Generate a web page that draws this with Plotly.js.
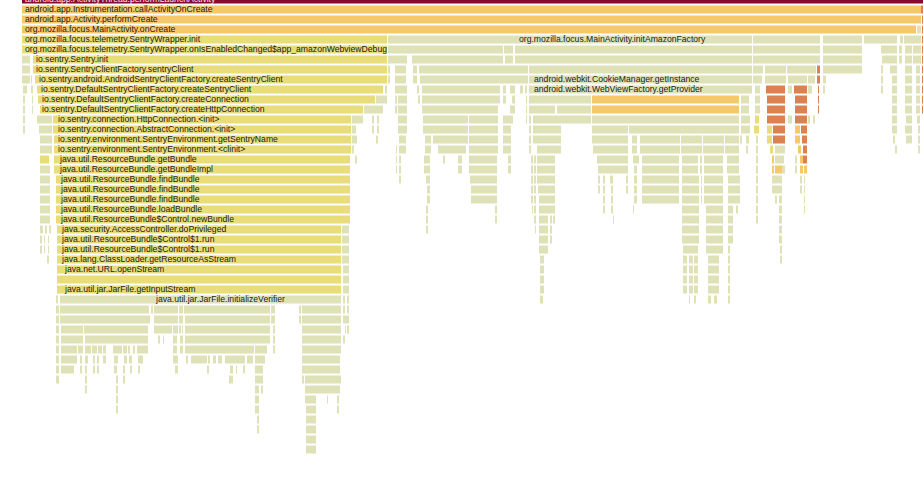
<!DOCTYPE html>
<html><head><meta charset="utf-8">
<script src="https://cdn.plot.ly/plotly-3.0.1.min.js"></script>
<style>html,body{margin:0;padding:0;background:#fff}#chart{width:923px;height:493px}</style>
</head><body><div id="chart"></div>
<script>
// Flame graph frames: [depth, startSample, endSample]
const rootFrames = [[0,22,923]];
const hotFrames = [[1,22,921],[2,22,921],[3,22,916],[10,592,739],[11,592,739],
  [13,795,800],[14,795,800],[15,798,801],[16,772,774],[16,800,803],[17,772,774],[17,775,782],[17,800,803],[17,804,807]];
const warmFrames = [[1,921,923],[2,922,923],[3,922,923],[4,922,923],[5,922,923],[6,922,923],[7,922,923],[8,922,923],[9,922,923],[10,922,923],[11,922,923],
  [7,817,820],[8,817,820],[9,766,785],[9,794,807],[9,818,819],[10,767,785],[10,795,807],[10,818,819],
  [11,767,785],[11,795,807],[11,818,819],[12,767,785],[12,795,807],[13,773,785],[13,801,807],[14,773,785],[14,802,807],[15,803,807],[16,803,807]];
const sentryFrames = [[4,22,387],[5,22,387],[6,33,387],[7,33,387],[8,35,387],[9,37,383],[10,38,375],[11,40,363],
  [12,53,351],[13,53,351],[14,54,351],[15,54,351],[16,40,49],[16,54,350],[17,54,350],[18,56,350],[19,56,350],[20,56,350],
  [21,56,350],[22,56,350],[23,57,341],[24,57,341],[25,57,341],[26,57,341],[27,57,341],[28,57,341],[29,57,341],
  [12,755,759],[13,754,759],[13,767,772],[14,767,772],[15,770,773]];
const coldFrames = [
  [3,917,921],
  [4,388,752],[4,753,820],[4,823,862],[4,864,897],[4,900,903],[4,904,921],
  [5,388,503],[5,504,513],[5,515,752],[5,753,820],[5,823,862],[5,881,897],[5,899,902],[5,905,912],[5,913,921],
  [6,22,30],[6,388,407],[6,412,503],[6,505,513],[6,515,752],[6,753,820],[6,823,862],[6,882,897],[6,899,902],[6,905,912],[6,913,921],
  [7,22,30],[7,388,390],[7,395,406],[7,413,417],[7,419,528],[7,529,752],[7,753,763],[7,765,786],[7,787,816],[7,823,862],[7,881,883],[7,890,897],[7,905,912],[7,916,920],
  [8,22,30],[8,31,32],[8,388,390],[8,395,406],[8,413,417],[8,420,528],[8,529,752],[8,753,762],[8,765,786],[8,788,807],[8,808,815],[8,823,826],[8,881,883],[8,892,897],[8,905,912],[8,916,920],
  [9,23,27],[9,31,33],[9,385,387],[9,395,407],[9,417,419],[9,422,500],[9,503,506],[9,510,515],[9,520,523],[9,525,527],[9,529,752],[9,755,760],[9,788,792],[9,808,812],[9,823,825],[9,881,883],[9,892,897],[9,905,912],[9,916,920],
  [10,23,25],[10,32,33],[10,376,387],[10,395,397],[10,398,407],[10,418,420],[10,422,500],[10,503,506],[10,512,515],[10,526,527],[10,529,591],[10,741,749],[10,755,760],[10,892,897],[10,905,912],[10,916,920],
  [11,23,25],[11,32,33],[11,364,383],[11,395,397],[11,398,407],[11,422,498],[11,510,515],[11,526,527],[11,529,555],[11,557,591],[11,741,749],[11,755,760],[11,892,897],[11,905,912],[11,916,920],
  [12,23,25],[12,37,52],[12,352,363],[12,372,374],[12,377,379],[12,398,407],[12,423,468],[12,469,498],[12,503,513],[12,526,527],[12,529,531],[12,533,591],[12,592,739],[12,741,750],[12,788,792],[12,808,810],[12,813,815],[12,892,897],[12,906,912],[12,917,920],
  [13,23,25],[13,39,52],[13,352,356],[13,372,374],[13,377,379],[13,398,407],[13,423,468],[13,469,498],[13,503,511],[13,529,531],[13,533,561],[13,592,628],[13,629,739],[13,741,750],[13,892,897],[13,905,912],[13,918,920],
  [14,40,52],[14,352,357],[14,376,378],[14,399,406],[14,425,431],[14,433,468],[14,469,498],[14,503,511],[14,529,531],[14,533,561],[14,592,628],[14,632,637],[14,640,680],[14,681,702],[14,703,724],[14,725,739],[14,740,742],[14,746,749],[14,756,758],[14,893,895],[14,906,912],[14,918,920],
  [15,40,52],[15,352,354],[15,396,397],[15,399,406],[15,425,431],[15,438,466],[15,469,498],[15,503,511],[15,529,531],[15,537,561],[15,593,628],[15,632,637],[15,640,680],[15,681,702],[15,703,724],[15,725,739],[15,746,748],[15,756,758],[15,775,785],[15,895,897],[15,918,920],
  [16,355,357],[16,396,397],[16,399,401],[16,424,430],[16,443,445],[16,458,462],[16,469,497],[16,508,511],[16,531,533],[16,534,536],[16,537,555],[16,597,628],[16,633,639],[16,642,679],[16,682,698],[16,700,702],[16,704,723],[16,727,739],[16,756,758],[16,775,784],[16,795,797],
  [17,40,50],[17,396,397],[17,399,401],[17,424,430],[17,458,462],[17,469,497],[17,508,511],[17,531,533],[17,534,536],[17,537,555],[17,598,628],[17,634,637],[17,642,679],[17,682,698],[17,700,702],[17,704,723],[17,727,739],[17,756,758],[17,782,785],[17,795,797],
  [18,40,50],[18,399,401],[18,426,430],[18,470,497],[18,531,533],[18,534,536],[18,537,555],[18,598,600],[18,603,605],[18,610,613],[18,626,628],[18,634,637],[18,642,679],[18,682,699],[18,701,702],[18,704,723],[18,728,740],[18,756,758],[18,772,782],[18,800,802],[18,804,805],
  [19,40,50],[19,427,430],[19,471,497],[19,531,533],[19,534,536],[19,538,555],[19,598,600],[19,603,605],[19,611,613],[19,626,628],[19,634,637],[19,642,679],[19,682,699],[19,701,702],[19,704,723],[19,728,740],[19,756,758],[19,772,782],[19,800,802],[19,804,805],
  [20,40,50],[20,427,430],[20,471,497],[20,531,533],[20,534,536],[20,539,555],[20,603,605],[20,611,613],[20,634,637],[20,642,679],[20,682,699],[20,701,702],[20,704,723],[20,728,740],[20,756,758],[20,775,777],[20,779,782],[20,804,805],
  [21,40,50],[21,426,428],[21,495,497],[21,532,533],[21,534,536],[21,539,555],[21,603,605],[21,611,613],[21,633,634],[21,682,699],[21,706,723],[21,728,733],[21,736,738],[21,756,758],[21,779,782],[21,804,805],
  [22,40,50],[22,426,428],[22,495,497],[22,534,536],[22,539,548],[22,550,552],[22,553,555],[22,613,614],[22,682,699],[22,706,723],[22,728,733],[22,756,758],[22,779,782],
  [23,40,43],[23,45,47],[23,49,51],[23,342,349],[23,426,428],[23,535,536],[23,539,548],[23,550,552],[23,682,699],[23,706,723],[23,728,733],[23,779,782],
  [24,40,42],[24,44,45],[24,48,49],[24,342,349],[24,539,548],[24,550,552],[24,682,699],[24,706,723],[24,728,733],[24,779,782],
  [25,40,42],[25,44,45],[25,48,49],[25,342,349],[25,539,548],[25,683,698],[25,706,723],[25,728,730],[25,780,782],
  [26,47,49],[26,342,349],[26,540,544],[26,683,687],[26,689,693],[26,694,698],[26,708,719],[26,728,730],[26,780,782],
  [27,343,349],[27,540,544],[27,683,687],[27,689,693],[27,694,698],[27,708,719],[27,728,730],
  [28,343,349],[28,540,544],[28,683,687],[28,689,693],[28,694,698],[28,708,719],[28,728,730],
  [29,343,349],[29,540,544],[29,683,687],[29,689,693],[29,694,698],[29,708,719],[29,728,730],
  [30,56,58],[30,60,341],[30,343,345],[30,347,349],[30,540,543],[30,689,690],[30,694,696],[30,708,711],[30,714,717],[30,728,730],
  [31,56,59],[31,60,149],[31,151,153],[31,154,178],[31,179,183],[31,184,270],[31,271,275],[31,299,301],[31,302,341],[31,343,345],[31,347,349],
  [32,56,59],[32,60,150],[32,154,178],[32,179,183],[32,185,270],[32,271,275],[32,299,301],[32,302,341],[32,343,349],
  [33,56,59],[33,61,83],[33,84,148],[33,154,172],[33,173,178],[33,179,181],[33,182,183],[33,185,270],[33,273,275],[33,302,341],[33,345,346],[33,347,349],
  [34,56,59],[34,61,83],[34,85,148],[34,158,160],[34,163,164],[34,173,177],[34,180,183],[34,185,270],[34,273,275],[34,302,341],[34,343,345],
  [35,56,59],[35,61,77],[35,78,83],[35,85,91],[35,92,97],[35,98,102],[35,103,106],[35,113,122],[35,123,127],[35,128,130],[35,133,135],[35,137,148],[35,173,177],[35,180,183],[35,185,254],[35,255,267],[35,273,275],[35,302,341],
  [36,56,59],[36,61,77],[36,80,82],[36,85,88],[36,93,95],[36,97,99],[36,103,106],[36,114,118],[36,124,127],[36,129,132],[36,138,143],[36,173,178],[36,186,188],[36,191,207],[36,208,210],[36,213,216],[36,218,222],[36,225,245],[36,247,253],[36,255,265],[36,302,340],
  [37,56,59],[37,61,74],[37,80,82],[37,85,87],[37,93,95],[37,97,99],[37,114,117],[37,123,125],[37,130,132],[37,138,140],[37,175,178],[37,207,209],[37,230,233],[37,236,237],[37,243,245],[37,255,263],[37,302,340],
  [38,56,59],[38,85,87],[38,116,118],[38,123,125],[38,229,233],[38,255,263],[38,302,304],[38,305,341],
  [39,85,87],[39,116,118],[39,255,259],[39,261,263],[39,305,340],
  [40,116,118],[40,255,259],[40,305,316],[40,327,328],[40,337,339],
  [41,116,118],[41,255,259],[41,306,316],[41,337,339],
  [42,257,259],[42,306,316],
  [43,257,259],[43,306,316],
  [44,306,316],
  [45,306,316]
];
// Frame labels: [depth, labelStart, function name]
const frameLabels = [
  [0,25,'android.app.ActivityThread.performLaunchActivity'],
  [1,25,'android.app.Instrumentation.callActivityOnCreate'],
  [2,25,'android.app.Activity.performCreate'],
  [3,25,'org.mozilla.focus.MainActivity.onCreate'],
  [4,25,'org.mozilla.focus.telemetry.SentryWrapper.init'],
  [4,519,'org.mozilla.focus.MainActivity.initAmazonFactory'],
  [5,25,'org.mozilla.focus.telemetry.SentryWrapper.onIsEnabledChanged$app_amazonWebviewDebug'],
  [6,36,'io.sentry.Sentry.init'],
  [7,36,'io.sentry.SentryClientFactory.sentryClient'],
  [8,39,'io.sentry.android.AndroidSentryClientFactory.createSentryClient'],
  [8,534,'android.webkit.CookieManager.getInstance'],
  [9,41,'io.sentry.DefaultSentryClientFactory.createSentryClient'],
  [9,534,'android.webkit.WebViewFactory.getProvider'],
  [10,42,'io.sentry.DefaultSentryClientFactory.createConnection'],
  [11,42,'io.sentry.DefaultSentryClientFactory.createHttpConnection'],
  [12,58,'io.sentry.connection.HttpConnection.<init>'],
  [13,58,'io.sentry.connection.AbstractConnection.<init>'],
  [14,58,'io.sentry.environment.SentryEnvironment.getSentryName'],
  [15,58,'io.sentry.environment.SentryEnvironment.<clinit>'],
  [16,59,'java.util.ResourceBundle.getBundle'],
  [17,59,'java.util.ResourceBundle.getBundleImpl'],
  [18,60,'java.util.ResourceBundle.findBundle'],
  [19,60,'java.util.ResourceBundle.findBundle'],
  [20,60,'java.util.ResourceBundle.findBundle'],
  [21,60,'java.util.ResourceBundle.loadBundle'],
  [22,60,'java.util.ResourceBundle$Control.newBundle'],
  [23,61,'java.security.AccessController.doPrivileged'],
  [24,61,'java.util.ResourceBundle$Control$1.run'],
  [25,61,'java.util.ResourceBundle$Control$1.run'],
  [26,61,'java.lang.ClassLoader.getResourceAsStream'],
  [27,64,'java.net.URL.openStream'],
  [29,64,'java.util.jar.JarFile.getInputStream'],
  [30,155,'java.util.jar.JarFile.initializeVerifier']
];

function esc(s){return s.replace(/&/g,'&amp;').replace(/</g,'&lt;').replace(/>/g,'&gt;');}
function barTrace(frames, color){
  return {type:'bar', orientation:'h',
    y: frames.map(f=>f[0]), base: frames.map(f=>f[1]), x: frames.map(f=>f[2]-f[1]),
    width: 0.8, marker:{color:color, line:{width:0}}, hoverinfo:'skip', showlegend:false};
}
const traces = [
  barTrace(coldFrames,'#dfe2b7'),
  barTrace(sentryFrames,'#e8dc7b'),
  barTrace(hotFrames,'#f5c96b'),
  barTrace(warmFrames,'#dc8150'),
  barTrace(rootFrames,'#870a33')
];
const annotations = frameLabels.map(l => ({
  x: l[1], y: l[0] === 0 ? 0.06 : l[0], xref:'x', yref:'y', text: esc(l[2]), showarrow:false,
  xanchor:'left', yanchor:'middle', xshift:-2.5, yshift: l[0] === 0 ? 1.1 : 0.5,
  font:{family:'Liberation Sans, Arial, sans-serif', size:8.65, color: l[0]===0 ? '#f4e4ea' : '#222222'}
}));
const layout = {
  width:923, height:493, margin:{l:0,r:0,t:0,b:0},
  paper_bgcolor:'#ffffff', plot_bgcolor:'#ffffff',
  barmode:'overlay', showlegend:false,
  xaxis:{range:[0,923], visible:false, fixedrange:true},
  yaxis:{range:[49.35,0.05], visible:false, fixedrange:true},
  annotations: annotations
};
Plotly.newPlot('chart', traces, layout, {staticPlot:true, displayModeBar:false});
</script>
</body></html>
